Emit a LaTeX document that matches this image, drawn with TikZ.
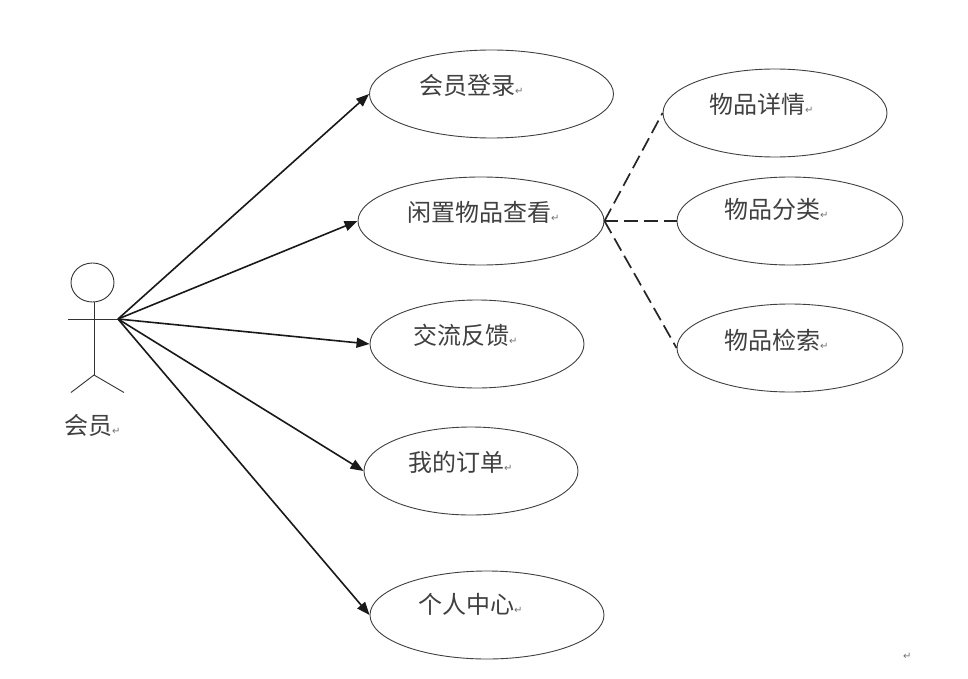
\documentclass[tikz,border=0pt]{standalone}
\usepackage{fontspec}
\usetikzlibrary{shapes.geometric,arrows.meta}
\newfontfamily\cjkf{Noto Sans CJK SC}
\newfontfamily\markf{DejaVu Sans}
\newcommand{\pilcrow}{{\markf\fontsize{10pt}{10pt}\selectfont\textcolor{black!55}{↵}}}
\tikzset{
  usecase/.style={ellipse,draw=black!75,line width=0.9pt,inner sep=0pt,minimum height=88pt},
  caselabel/.style={anchor=west,inner sep=0pt,text=black!75,font=\cjkf\fontsize{24pt}{24pt}\selectfont},
  assoc/.style={draw=black!90,line width=1.6pt,-{Triangle[length=13pt,width=10pt]},shorten >=0pt},
  link/.style={draw=black!85,line width=1.7pt,dash pattern=on 14pt off 6pt},
  stick/.style={draw=black!80,line width=0.9pt}
}
\begin{document}
\begin{tikzpicture}[x=1pt,y=-1pt]
\useasboundingbox[fill=white] (0,0) rectangle (968,679);
\node[usecase,minimum width=244pt] (login) at (491.5,94) {};
\node[usecase,minimum width=246pt] (view) at (481,221) {};
\node[usecase,minimum width=214pt] (talk) at (477,344) {};
\node[usecase,minimum width=214pt] (order) at (471,471) {};
\node[usecase,minimum width=234pt] (home) at (487,615) {};
\node[usecase,minimum width=224pt] (detail) at (775,113) {};
\node[usecase,minimum width=226pt] (kind) at (790,221) {};
\node[usecase,minimum width=226pt] (search) at (790,348) {};
\node[caselabel] (t1) at (419,85) {会员登录\pilcrow};
\node[caselabel] (t2) at (407,212) {闲置物品查看\pilcrow};
\node[caselabel] (t3) at (413,335) {交流反馈\pilcrow};
\node[caselabel] (t4) at (408,462) {我的订单\pilcrow};
\node[caselabel] (t5) at (418,604) {个人中心\pilcrow};
\node[caselabel] (t6) at (709,104) {物品详情\pilcrow};
\node[caselabel] (t7) at (724,209) {物品分类\pilcrow};
\node[caselabel] (t8) at (724,340) {物品检索\pilcrow};
\node[caselabel] (t9) at (64,425) {会员\pilcrow};
\node[anchor=west,inner sep=0pt] (endmark) at (903,656) {\pilcrow};
% actor
\node[ellipse,draw=black!80,line width=0.9pt,inner sep=0pt,minimum width=43pt,minimum height=39pt] (head) at (92.5,282.5) {};
\coordinate (hip) at (94,375);
\coordinate (armL) at (68,319);
\coordinate (armR) at (118,319);
\coordinate (legL) at (71,392.5);
\coordinate (legR) at (124,392.5);
\draw[stick] (head.south) ++(1.5,0) -- (hip);
\draw[stick] (armL) -- (armR);
\draw[stick] (legL) -- (hip) -- (legR);
% connectors
\foreach \t in {login,view,talk,order,home} \draw[assoc] (armR) -- (\t.west);
\foreach \t in {detail,kind,search} \draw[link] (view.east) -- (\t.west);
\end{tikzpicture}
\end{document}
